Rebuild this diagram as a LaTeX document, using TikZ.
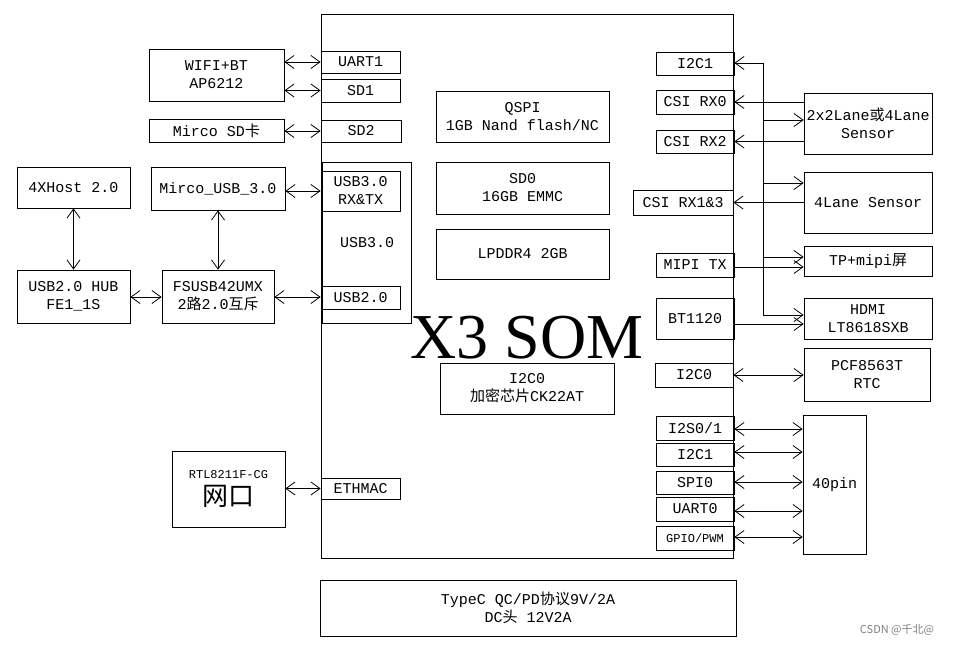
\documentclass[tikz,border=0pt]{standalone}
\usepackage{fontspec}
\setmainfont{Liberation Mono}
\newfontfamily\cjk{Noto Sans CJK SC}
\newfontfamily\serifbig{Liberation Serif}
\usetikzlibrary{arrows.meta}
\tikzset{
  bx/.style={draw, thick, inner sep=0pt, align=center, font=\fontsize{15}{18}\selectfont},
  ar/.style={thick, {Straight Barb[length=9pt,width=13pt]}-{Straight Barb[length=9pt,width=13pt]}},
  ra/.style={thick, -{Straight Barb[length=9pt,width=13pt]}},
  ln/.style={thick}
}
\newcommand{\bx}[6]{\node[bx, minimum width={(#4-#2)*1pt}, minimum height={(#5-#3)*1pt}] (#1) at ({(#2+#4)/2},{(#3+#5)/2}) {#6};}
\begin{document}
\begin{tikzpicture}[x=1pt,y=-1pt]
\useasboundingbox (0,0) rectangle (960,645);
% main
\node[draw,thick,minimum width=412pt,minimum height=544pt,inner sep=0pt] (som) at (527,286) {};
\node[font=\serifbig\fontsize{64}{64}\selectfont] (x3) at (527,338) {X3 SOM};
\node[draw,thick,minimum width=89pt,minimum height=161pt,inner sep=0pt] (usbg) at (366.5,242.5) {};
\node[font=\fontsize{15}{18}\selectfont] (usbl) at (367,243) {USB3.0};
% left ports
\bx{uart1}{321}{51}{400}{73}{UART1}
\bx{sd1}{321}{79}{400}{102}{SD1}
\bx{sd2}{321}{120}{401}{142}{SD2}
\bx{rxtx}{321}{171}{400}{211}{USB3.0\\RX\&TX}
\bx{usb2}{321}{286}{400}{309}{USB2.0}
\bx{eth}{321}{478}{400}{499}{ETHMAC}
% left devices
\bx{wifi}{149}{49}{284}{101}{WIFI+BT\\AP6212}
\bx{sdk}{149}{119}{284}{142}{Mirco SD{\cjk 卡}}
\bx{host}{17}{167}{130}{208}{4XHost 2.0}
\bx{musb}{151}{167}{285}{210}{Mirco\_USB\_3.0}
\bx{hub}{17}{270}{130}{323}{USB2.0 HUB\\FE1\_1S}
\bx{fsusb}{162}{270}{274}{323}{FSUSB42UMX\\2{\cjk 路}2.0{\cjk 互斥}}
\node[draw,thick,minimum width=113pt,minimum height=76pt,inner sep=0pt,align=center] (rtl) at (228.5,489) {\fontsize{12}{14}\selectfont RTL8211F-CG\\[6pt]{\cjk\fontsize{26}{28}\selectfont 网口}};
% inner
\bx{qspi}{436}{91}{609}{142}{QSPI\\1GB Nand flash/NC}
\bx{sd0}{436}{162}{609}{214}{SD0\\16GB EMMC}
\bx{lp}{436}{229}{609}{279}{LPDDR4 2GB}
\bx{ic0}{440}{363}{614}{414}{I2C0\\{\cjk 加密芯片}CK22AT}
% right ports
\bx{ri2c1}{656}{52}{734}{75}{I2C1}
\bx{rx0}{656}{90}{734}{114}{CSI RX0}
\bx{rx2}{656}{130}{734}{153}{CSI RX2}
\bx{rx13}{633}{190}{733}{215}{CSI RX1\&3}
\bx{mipi}{656}{253}{734}{277}{MIPI TX}
\bx{bt}{656}{298}{734}{339}{BT1120}
\bx{ri2c0}{655}{363}{733}{387}{I2C0}
\bx{i2s}{656}{416}{734}{440}{I2S0/1}
\bx{pi2c1}{656}{443}{734}{466}{I2C1}
\bx{spi}{656}{471}{734}{494}{SPI0}
\bx{uart0}{656}{497}{734}{521}{UART0}
\node[bx,minimum width=78pt,minimum height=24pt,font=\fontsize{12}{14}\selectfont] (gpio) at (695,538) {GPIO/PWM};
% right devices
\bx{sens}{804}{93}{932}{154}{2x2Lane{\cjk 或}4Lane\\Sensor}
\bx{sens4}{804}{172}{932}{233}{4Lane Sensor}
\bx{tp}{804}{246}{932}{276}{TP+mipi{\cjk 屏}}
\bx{hdmi}{804}{298}{932}{339}{HDMI\\LT8618SXB}
\bx{pcf}{804}{348}{930}{401}{PCF8563T\\RTC}
\bx{pin}{803}{415}{866}{554}{40pin}
\bx{pwr}{320}{580}{736}{636}{TypeC QC/PD{\cjk 协议}9V/2A\\DC{\cjk 头} 12V2A}
\node[text=gray,font=\cjk\fontsize{11}{12}\selectfont] (wm) at (897,630) {CSDN @千北@};
% left connectors
\draw[ar] (wifi.east |- uart1) -- (uart1.west);
\draw[ar] (wifi.east |- sd1) -- (sd1.west);
\draw[ar] (sdk.east |- sd2) -- (sd2.west);
\draw[ar] (musb.east |- rxtx) -- (rxtx.west);
\draw[ar] (host.south) -- (hub.north);
\draw[ar] (musb.south) -- (musb.south |- fsusb.north);
\draw[ar] (hub.east |- 0,297) -- (fsusb.west |- 0,297);
\draw[ar] (fsusb.east |- 0,297) -- (usb2.west |- 0,297);
\draw[ar] (rtl.east |- eth) -- (eth.west);
% right bus
\coordinate (b1) at (763,63);
\coordinate (b2) at (763,315);
\draw[ln] (b2) -- (b1);
\draw[ra] (b1) -- (ri2c1.east |- b1);
\draw[ra] (763,120) -- (sens.west |- 0,120);
\draw[ra] (763,183) -- (sens4.west |- 0,183);
\draw[ra] (763,257) -- (tp.west |- 0,257);
\draw[ra] (b2) -- (hdmi.west |- b2);
\draw[ra] (sens.west |- rx0) -- (rx0.east);
\draw[ra] (sens.west |- rx2) -- (rx2.east);
\draw[ra] (sens4.west |- rx13) -- (rx13.east);
\draw[ra] (mipi.east |- 0,267) -- (tp.west |- 0,267);
\draw[ra] (bt.east |- 0,324) -- (hdmi.west |- 0,324);
\draw[ar] (ri2c0.east) -- (pcf.west |- ri2c0);
\draw[ar] (i2s.east |- 0,429) -- (pin.west |- 0,429);
\draw[ar] (pi2c1.east |- 0,452) -- (pin.west |- 0,452);
\draw[ar] (spi.east |- 0,482) -- (pin.west |- 0,482);
\draw[ar] (uart0.east |- 0,511) -- (pin.west |- 0,511);
\draw[ar] (gpio.east |- 0,537) -- (pin.west |- 0,537);
\end{tikzpicture}
\end{document}
